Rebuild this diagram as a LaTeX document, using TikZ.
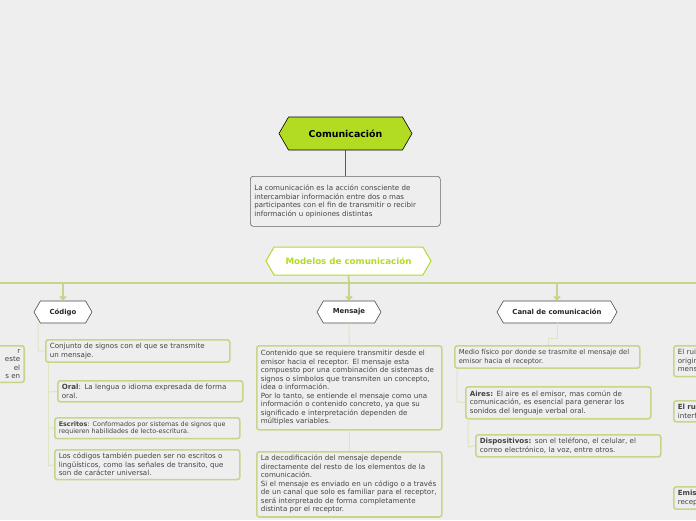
\documentclass[tikz,border=0pt]{standalone}
\usepackage{fontspec}
\setmainfont{DejaVu Sans}
\usetikzlibrary{shapes.symbols,arrows.meta}
\definecolor{bg}{HTML}{EEEEEE}
\definecolor{lime}{HTML}{B2DC22}
\definecolor{gbord}{HTML}{C3D68A}
\definecolor{gline}{HTML}{DDE5C2}
\definecolor{txt}{HTML}{444444}
\tikzset{
 hexa/.style={signal, signal to=east and west, signal pointer angle=120, draw=black!70, fill=white, font=\fontsize{6.9}{8}\selectfont\bfseries, text=black!85, inner sep=0pt, line width=0.6pt},
 gbox/.style={draw=gbord, line width=1.6pt, rounded corners=2.5pt, fill=bg, anchor=north west, align=left, text=txt, font=\fontsize{7.1}{8.5}\selectfont, inner xsep=4pt, inner ysep=3.5pt},
 tline/.style={draw=gline, line width=1pt},
 garrow/.style={draw=gbord, line width=1.8pt, -{Straight Barb[length=3pt,width=6pt]}},
}
\begin{document}
\begin{tikzpicture}[x=1pt,y=-1pt]
\fill[bg] (0,0) rectangle (696,520);
\clip (0,0) rectangle (696,520);
% top
\node[hexa, fill=lime, draw=black, minimum width=133, minimum height=33, font=\fontsize{9.4}{11}\selectfont\bfseries, text=black] (com) at (345.5,133.5) {Comunicación};
\node[draw=black!60, line width=0.6pt, rounded corners=3pt, fill=bg, anchor=north west, text width=182, minimum height=50, align=left, text=txt, font=\fontsize{7.1}{8.5}\selectfont, inner xsep=4pt] (def) at (250,176) {La comunicación es la acción consciente de\\intercambiar información entre dos o mas\\participantes con el fin de transmitir o recibir\\información u opiniones distintas};
\draw[black!65, line width=0.8pt] (com.south) -- (com.south |- def.north);
\node[hexa, draw=lime, line width=1pt, text=lime, font=\fontsize{8.7}{10}\selectfont\bfseries, minimum width=165, minimum height=28] (mod) at (348.5,261) {Modelos de comunicación};
\coordinate (hub) at (349,283);
\draw[gbord, line width=1.8pt] (0,283) -- (696,283);
\draw[gbord, line width=1.8pt] (mod.south) -- (hub);
% level 2
\node[hexa, minimum width=58, minimum height=22] (cod) at (63,312) {Código};
\node[hexa, minimum width=64, minimum height=22] (men) at (349,312) {Mensaje};
\node[hexa, minimum width=120, minimum height=22] (can) at (557,312) {Canal de comunicación};
\draw[garrow] (63,283) -- (cod.north);
\draw[garrow] (hub) -- (men.north);
\draw[garrow] (557,283) -- (can.north);
% Codigo
\node[gbox, text width=176] (c1) at (45,339) {Conjunto de signos con el que se transmite\\un mensaje.};
\node[gbox, text width=177] (c2) at (57,380) {\textbf{Oral}: La lengua o idioma expresada de forma\\oral.};
\node[gbox, text width=177, font=\fontsize{6.4}{7.6}\selectfont] (c3) at (54,417) {\textbf{Escritos}: Conformados por sistemas de signos que\\requieren habilidades de lecto-escritura.};
\node[gbox, text width=177] (c4) at (54,449) {Los códigos también pueden ser no escritos o\\lingüísticos, como las señales de transito, que\\son de carácter universal.};
\draw[tline] (38,323) -- (38,351) -- (c1.west);
\draw[tline] (48,363) -- (48,466);
\draw[tline] (48,392) -- (c2.west);
\draw[tline] (48,428) -- (c3.west);
\draw[tline] (48,466) -- (c4.west);
% left partial box
\node[gbox, text width=70, anchor=north east, align=right] (lp) at (25,345) {r\\este\\el\\s en};
% Mensaje
\node[gbox, text width=177, minimum height=84] (m1) at (256,345) {Contenido que se requiere transmitir desde el\\emisor hacia el receptor. El mensaje esta\\compuesto por una combinación de sistemas de\\signos o símbolos que transmiten un concepto,\\idea o información.\\Por lo tanto, se entiende el mensaje como una\\información o contenido concreto, ya que su\\significado e interpretación dependen de\\múltiples variables.};
\node[gbox, text width=177] (m2) at (256,451) {La decodificación del mensaje depende\\directamente del resto de los elementos de la\\comunicación.\\Si el mensaje es enviado en un código o a través\\de un canal que solo es familiar para el receptor,\\será interpretado de forma completamente\\distinta por el receptor.};
\draw[tline] (men.south) -- (m1.north);
\draw[tline] (m1.south) -- (m2.north);
% Canal
\node[gbox, text width=177, font=\fontsize{6.8}{8.5}\selectfont] (k1) at (454,345) {Medio físico por donde se trasmite el mensaje del\\emisor hacia el receptor.};
\node[gbox, text width=177, minimum height=32] (k2) at (465,386) {\textbf{Aires:} El aire es el emisor, mas común de\\comunicación, es esencial para generar los\\sonidos del lenguaje verbal oral.};
\node[gbox, text width=177] (k3) at (475,434) {\textbf{Dispositivos:} son el teléfono, el celular, el\\correo electrónico, la voz, entre otros.};
\draw[tline] (can.south) -- (557,338) -- (548,338) -- (548,345);
\draw[tline] (457,369) -- (457,402) -- (k2.west);
\draw[tline] (468,418) -- (468,447) -- (k3.west);
% right partial boxes
\node[gbox, text width=60] (r1) at (673,345) {El ruido\\original\\mensaje};
\node[gbox, text width=60] (r2) at (673,400) {\textbf{El ruido}\\interferencia};
\node[gbox, text width=60] (r3) at (673,486) {\textbf{Emisor}\\receptor};
\end{tikzpicture}
\end{document}
